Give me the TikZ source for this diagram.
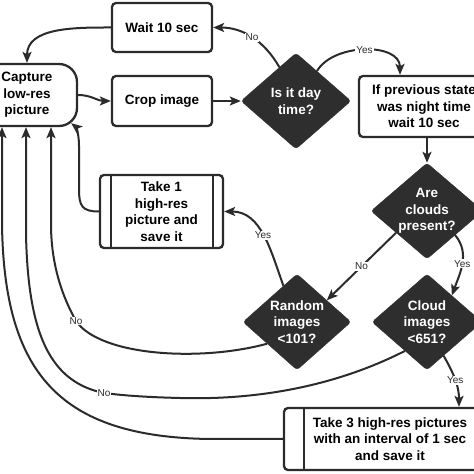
\documentclass[tikz,border=0pt]{standalone}
\usepackage{fontspec}
\setmainfont{Liberation Sans}
\usetikzlibrary{shapes.geometric,arrows.meta,calc}
\definecolor{ink}{HTML}{2B2B2B}
\definecolor{dfill}{HTML}{2E2E2E}
\begin{document}
\begin{tikzpicture}[x=1pt,y=1pt,
 box/.style={draw=ink, line width=2.3pt, rounded corners=4pt, fill=white, align=center, font=\bfseries\fontsize{13.5}{16.5}\selectfont, text=black, inner sep=0pt},
 dia/.style={diamond, draw=dfill, fill=dfill, rounded corners=3pt, minimum width=110pt, minimum height=96pt, inner sep=0pt},
 dtext/.style={text=white, align=center, font=\bfseries\fontsize{13.5}{16.5}\selectfont},
 conn/.style={draw=ink, line width=2pt, -{Stealth[length=11pt,width=9pt,inset=2.5pt]}},
 lbl/.style={fill=white, inner sep=1pt, font=\fontsize{10}{12}\selectfont, text=ink},
 sideline/.style={draw=ink, line width=2.3pt}
]
\useasboundingbox (0,0) rectangle (474,474);
\clip (0,0) rectangle (474,474);
\fill[white] (0,0) rectangle (474,474);

% nodes
\node[box, minimum width=100pt, minimum height=49pt] (wait) at (162,446.5) {Wait 10 sec};
\node[box, rounded corners=18pt, minimum width=100pt, minimum height=62pt] (cap) at (27,379) {Capture\\low-res\\picture};
\node[box, minimum width=100pt, minimum height=50pt] (crop) at (162,373) {Crop image};
\node[dia] (day) at (296,373) {};
\node[dtext] (dayT) at (day) {Is it day\\time?};
\node[box, minimum width=130pt, minimum height=61pt] (prev) at (424,367.5) {If previous state\\was night time\\wait 10 sec};
\node[dia, minimum width=112pt] (clouds) at (427,263) {};
\node[dtext] (cloudsT) at (clouds) {Are\\clouds\\present?};
\node[box, minimum width=123pt, minimum height=73pt] (t1) at (161.5,262.5) {Take 1\\high-res\\picture and\\save it};
\node[dia, minimum width=108pt] (rand) at (297,152) {};
\node[dtext] (randT) at (rand) {Random\\images\\<101?};
\node[dia] (cloud) at (427,152) {};
\node[dtext] (cloudT) at (cloud) {Cloud\\images\\<651?};
\node[box, minimum width=212pt, minimum height=62pt] (t3) at (390,35) {Take 3 high-res pictures\\with an interval of 1 sec\\and save it};

% predefined-process side lines
\draw[sideline] ([xshift=12pt]t1.north west) -- ([xshift=12pt]t1.south west);
\draw[sideline] ([xshift=-11pt]t1.north east) -- ([xshift=-11pt]t1.south east);
\draw[sideline] ([xshift=21pt]t3.north west) -- ([xshift=21pt]t3.south west);
\draw[sideline] ([xshift=-21pt]t3.north east) -- ([xshift=-21pt]t3.south east);

% connectors
\draw[conn] (cap.east) to[out=0,in=180] (crop.west);
\draw[conn] (crop.east) -- (day.west);
\draw[conn] ($(day.north)!0.3!(day.west)$) to[out=120,in=0] node[lbl]{No} (wait.east);
\draw[conn] (wait.west) to[out=180,in=90] (cap.north);
\draw[conn] ($(day.north)!0.38!(day.east)$) to[out=60,in=90] node[lbl]{Yes} ([xshift=-24pt]prev.north);
\draw[conn] (prev.south -| clouds.north) -- (clouds.north);
\draw[conn] ($(clouds.west)!0.45!(clouds.south)$) -- node[lbl]{No} ($(rand.north)!0.55!(rand.east)$);
\draw[conn] ($(clouds.south)!0.5!(clouds.east)$) to[out=-50,in=70] node[lbl,pos=0.5]{Yes} ($(cloud.north)!0.45!(cloud.east)$);
\draw[conn] ($(rand.north)!0.25!(rand.west)$) to[out=110,in=0] node[lbl]{Yes} (t1.east);
\draw[conn] (t1.west) .. controls (82,262.5) and (79,268) .. (79,285) -- (79,328) .. controls (79,340) and (76,347) .. ([xshift=-7pt,yshift=4pt]cap.south east);
\draw[conn] ($(rand.west)!0.45!(rand.south)$) .. controls (200,112) and (100,118) .. (76,153) node[lbl]{No} .. controls (62,178) and (51,210) .. (51,250) -- ([xshift=24pt]cap.south);
\draw[conn] ($(cloud.west)!0.6!(cloud.south)$) .. controls (330,85) and (250,74) .. (180,76) .. controls (140,77) and (120,79) .. (104,81) node[lbl]{No} .. controls (50,92) and (28,140) .. (26,240) -- ([xshift=-1pt]cap.south);
\draw[conn] (t3.west) -- (210,35) .. controls (60,37) and (4,100) .. (2,250) -- ([xshift=-25pt]cap.south);
\draw[conn] ($(cloud.south)!0.3!(cloud.east)$) to[out=-60,in=90] node[lbl]{Yes} ([xshift=69pt]t3.north);
\end{tikzpicture}
\end{document}
